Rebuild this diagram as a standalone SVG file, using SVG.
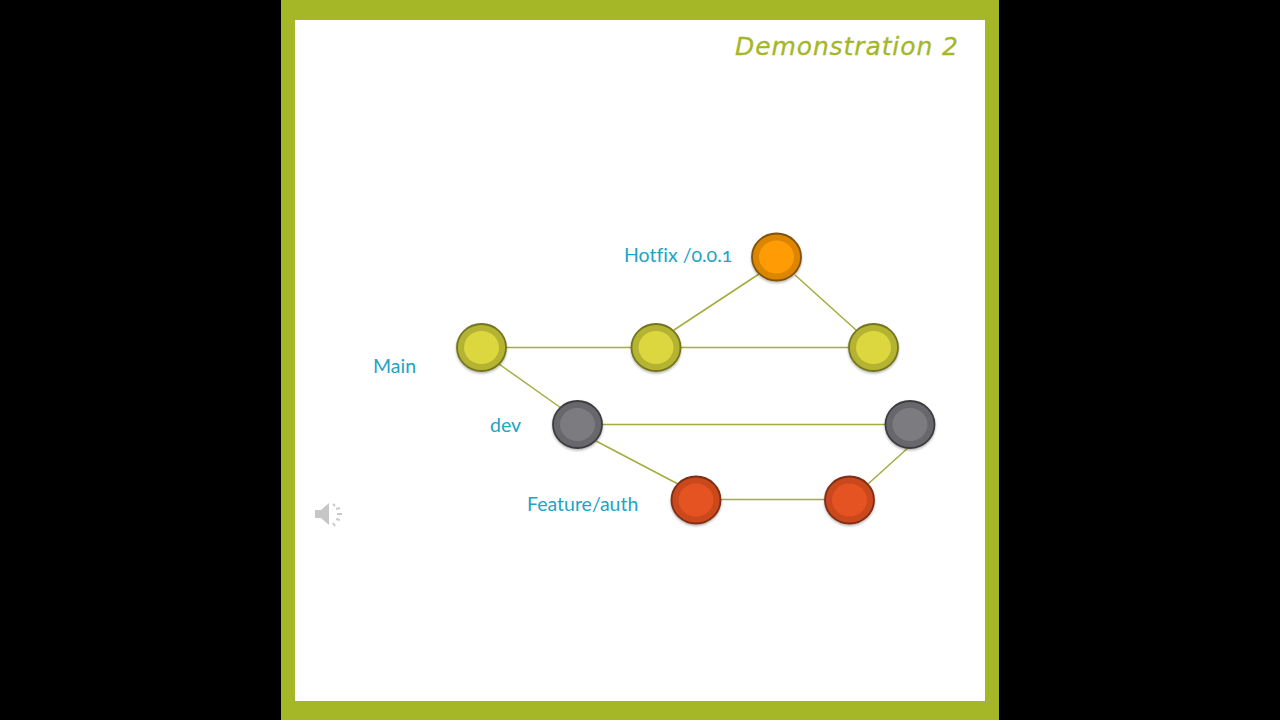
<svg xmlns="http://www.w3.org/2000/svg" width="1280" height="720" viewBox="0 0 1280 720">
<defs>
<filter id="sh" x="-20%" y="-20%" width="140%" height="140%"><feDropShadow dx="0" dy="1.5" stdDeviation="1.2" flood-color="#000" flood-opacity="0.3"/></filter>
</defs>
<style>
.lbl{font-family:"Lato","Open Sans",sans-serif;font-size:19.500px;fill:#22a3c4;font-feature-settings:"onum" 1,"liga" 0}
.title{font-family:"DejaVu Sans",sans-serif;font-style:italic;font-size:25px;fill:#a5b727;letter-spacing:0.900px;stroke:#a5b727;stroke-width:0.300px}
.c{fill:none;stroke:#a3ad3c;stroke-width:1.500}
.y .o{fill:#b5b433;stroke:#74751f}.y .i{fill:#dcd63f}
.g .o{fill:#68686c;stroke:#3e3e40}.g .i{fill:#7c7c80}
.r .o{fill:#c9481f;stroke:#7f2d12}.r .i{fill:#e65322}
.h .o{fill:#dc8600;stroke:#7f520a}.h .i{fill:#ff9c05}
.o{stroke-width:1.800;filter:url(#sh)}
</style>
<rect width="1280" height="720" fill="#000"/>
<rect x="281" y="0" width="718" height="720" fill="#a5b727"/>
<rect x="295" y="20" width="690" height="681" fill="#fff"/>
<text class="title" x="735" y="55">Demonstration 2</text>
<g id="connectors">
<line class="c" x1="506" y1="347.500" x2="632" y2="347.500"/>
<line class="c" x1="680" y1="347.500" x2="849" y2="347.500"/>
<line class="c" x1="674" y1="330" x2="759" y2="274"/>
<line class="c" x1="795" y1="275" x2="856" y2="330"/>
<line class="c" x1="499" y1="364" x2="561" y2="408"/>
<line class="c" x1="602" y1="424.500" x2="886" y2="424.500"/>
<line class="c" x1="596" y1="441" x2="678" y2="484"/>
<line class="c" x1="720" y1="499.500" x2="825" y2="499.500"/>
<line class="c" x1="868" y1="484" x2="909" y2="447"/>
</g>
<g id="n-hotfix" class="h"><ellipse class="o" cx="776.500" cy="257" rx="24.500" ry="23.500"/><ellipse class="i" cx="776.500" cy="257" rx="17.500" ry="16.500"/><text class="lbl" x="624" y="262">Hotfix /0.0.1</text></g>
<g id="n-main1" class="y"><ellipse class="o" cx="481.500" cy="347.500" rx="24.500" ry="23.500"/><ellipse class="i" cx="481.500" cy="347.500" rx="17.500" ry="16.500"/><text class="lbl" x="373" y="372.500">Main</text></g>
<g id="n-main2" class="y"><ellipse class="o" cx="656" cy="347.500" rx="24.500" ry="23.500"/><ellipse class="i" cx="656" cy="347.500" rx="17.500" ry="16.500"/></g>
<g id="n-main3" class="y"><ellipse class="o" cx="873.500" cy="347.500" rx="24.500" ry="23.500"/><ellipse class="i" cx="873.500" cy="347.500" rx="17.500" ry="16.500"/></g>
<g id="n-dev1" class="g"><ellipse class="o" cx="577.500" cy="424.500" rx="24.500" ry="23.500"/><ellipse class="i" cx="577.500" cy="424.500" rx="17.500" ry="16.500"/><text class="lbl" x="490" y="431.500">dev</text></g>
<g id="n-dev2" class="g"><ellipse class="o" cx="910" cy="424.500" rx="24.500" ry="23.500"/><ellipse class="i" cx="910" cy="424.500" rx="17.500" ry="16.500"/></g>
<g id="n-feat1" class="r"><ellipse class="o" cx="696" cy="500" rx="24.500" ry="23.500"/><ellipse class="i" cx="696" cy="500" rx="17.500" ry="16.500"/><text class="lbl" x="527" y="510.500">Feature/auth</text></g>
<g id="n-feat2" class="r"><ellipse class="o" cx="849.500" cy="500" rx="24.500" ry="23.500"/><ellipse class="i" cx="849.500" cy="500" rx="17.500" ry="16.500"/></g>
<g id="speaker" opacity="0.75">
<path d="M315 510h6l8-7v22l-8-7h-6z" fill="#b4b4b4"/>
<g stroke="#b8b8b8" stroke-width="2" fill="none"><path d="M333 504l2 2"/><path d="M336 509l4-1"/><path d="M337 514h5"/><path d="M336 519l4 1"/><path d="M333 523l2 3"/></g>
</g>
</svg>
